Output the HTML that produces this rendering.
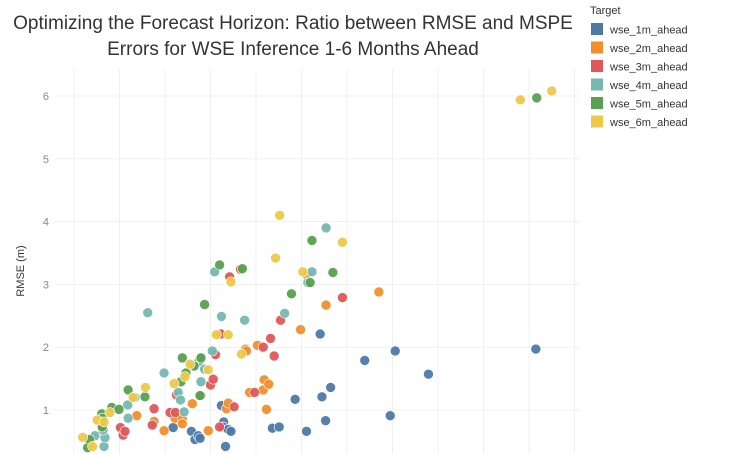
<!DOCTYPE html>
<html><head><meta charset="utf-8"><style>
html,body{margin:0;padding:0;background:#fff;width:736px;height:454px;overflow:hidden;font-family:"Liberation Sans",sans-serif}
</style></head><body>
<svg id="chart" width="736" height="454" viewBox="0 0 736 454" xmlns="http://www.w3.org/2000/svg">
<g font-size="19" fill="#333" text-anchor="middle">
<text x="293" y="29">Optimizing the Forecast Horizon: Ratio between RMSE and MSPE</text>
<text x="293" y="55">Errors for WSE Inference 1-6 Months Ahead</text>
</g>
<g id="grid"></g>
<g id="yaxis"></g>
<text x="0" y="0" transform="translate(24,271) rotate(-90)" font-size="11" fill="#333" text-anchor="middle">RMSE (m)</text>
<g id="points"></g>
<g id="legend">
<text x="590" y="14" font-size="11" fill="#333">Target</text>
</g>
</svg>
<script>
const seriesNames=["wse_1m_ahead","wse_2m_ahead","wse_3m_ahead","wse_4m_ahead","wse_5m_ahead","wse_6m_ahead"];
const seriesColors=["#4e79a7","#f28e2b","#e15759","#76b7b2","#59a14f","#edc948"];
const yTicks=[1,2,3,4,5,6];
const xGrid=[0,1,2,3,4,5,6,7,8,9,10,11];
const s1x=[2.18,2.58,2.66,2.73,2.77,3.24,3.29,3.28,3.33,3.39,3.45,4.36,4.51,4.86,5.11,5.41,5.45,5.53,5.64,6.39,7.06,7.79,6.95,10.15];
const s1y=[0.72,0.66,0.53,0.59,0.55,1.07,0.81,0.73,0.42,0.69,0.66,0.71,0.73,1.17,0.66,2.21,1.21,0.83,1.36,1.79,1.94,1.57,0.91,1.97];
const s2x=[1.38,1.76,1.98,2.22,2.38,2.38,2.60,2.95,3.35,3.39,3.77,3.79,3.86,4.03,4.16,4.18,4.28,4.23,4.98,5.12,5.54,6.70];
const s2y=[0.91,0.82,0.67,0.87,0.86,0.78,1.10,0.67,1.02,1.11,1.97,1.94,1.28,2.03,1.32,1.48,1.41,1.01,2.28,3.15,2.67,2.88];
const s3x=[1.02,1.08,1.12,1.72,1.76,2.11,2.25,2.23,2.79,2.79,3.00,3.06,3.11,3.20,3.23,3.42,3.52,3.66,3.97,4.16,4.32,4.40,4.54,5.90];
const s3y=[0.72,0.60,0.66,0.76,1.02,0.96,1.24,0.96,1.23,1.81,1.40,1.49,1.88,0.73,2.21,3.12,1.05,3.24,1.28,2.00,2.14,1.86,2.43,2.79];
const s4x=[0.46,0.66,0.68,0.64,1.18,1.19,1.34,1.62,1.98,2.29,2.34,2.42,2.74,2.79,2.87,3.04,3.09,3.24,3.75,4.63,5.14,5.23,5.54];
const s4y=[0.59,0.42,0.56,0.68,1.08,0.87,1.20,2.55,1.59,1.28,1.16,0.97,1.77,1.45,1.65,1.94,3.20,2.49,2.43,2.54,3.03,3.20,3.90];
const s5x=[0.30,0.34,0.61,0.62,0.62,0.83,0.99,1.19,1.56,2.35,2.38,2.46,2.64,2.77,2.79,2.87,3.20,3.70,4.78,5.19,5.23,5.69,10.17];
const s5y=[0.40,0.53,0.94,0.73,0.87,1.04,1.01,1.32,1.21,1.45,1.83,1.59,1.70,1.23,1.83,2.68,3.31,3.25,2.85,3.03,3.70,3.19,5.97];
const s6x=[0.19,0.41,0.51,0.66,0.79,1.30,1.57,2.20,2.44,2.55,2.95,3.13,3.39,3.45,3.68,4.43,4.52,5.03,5.90,9.81,10.50];
const s6y=[0.565,0.42,0.84,0.81,0.96,1.20,1.36,1.42,1.53,1.73,1.64,2.20,2.20,3.04,1.89,3.42,4.10,3.20,3.67,5.94,6.08];
const allX=[s1x,s2x,s3x,s4x,s5x,s6x], allY=[s1y,s2y,s3y,s4y,s5y,s6y];
const NS="http://www.w3.org/2000/svg";
const X=v=>74+v*45.5, Y=v=>410-(v-1)*62.8;
const PL=55,PR=580,PT=69,PB=454;
function mk(t,a,p){const e=document.createElementNS(NS,t);for(const k in a)e.setAttribute(k,a[k]);p.appendChild(e);return e;}
const grid=document.getElementById('grid'),yax=document.getElementById('yaxis'),pts=document.getElementById('points'),leg=document.getElementById('legend');
xGrid.forEach(v=>{const l=mk('line',{x1:X(v),x2:X(v),y1:PT,y2:PB,stroke:'#f0f0f0','stroke-width':1},grid);

});
yTicks.forEach(v=>{const l=mk('line',{x1:PL,x2:PR,y1:Y(v),y2:Y(v),stroke:'#f0f0f0','stroke-width':1},grid);


const t=mk('text',{x:49,y:Y(v)+4,'font-size':11,fill:'#888','text-anchor':'end'},yax);t.textContent=v;

});
allX.forEach((xs,i)=>{xs.forEach((xv,j)=>{const c=mk('circle',{cx:X(xv),cy:Y(allY[i][j]),r:5,fill:seriesColors[i],stroke:'#fff','stroke-width':0.6,'fill-opacity':0.95},pts);

});});
seriesNames.forEach((n,i)=>{const y=30+i*18.5;
const r=mk('rect',{x:591,y:y-7,width:12,height:12,fill:seriesColors[i]},leg);


const t=mk('text',{x:610,y:y+3.5,'font-size':11,fill:'#333'},leg);t.textContent=n;

});
</script>
</body></html>
